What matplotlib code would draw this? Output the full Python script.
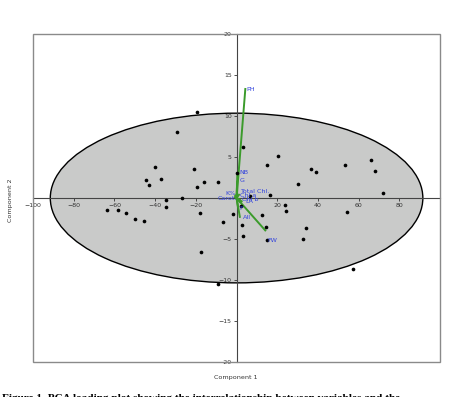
import matplotlib
matplotlib.use("Agg")
import matplotlib.pyplot as plt
from matplotlib.patches import Ellipse, Rectangle

# scores (component 1, component 2)
score_x = [-19.3, -29.3, 3.3, 20.3, 14.9, -40.2, -21.1, 36.6, 39.2, 53.3, 66.1, 68.2,
           0.0, -44.4, -37.0, -43.1, -15.9, -9.2, -19.2, 30.3, 71.7, 16.4, -26.6, -34.7,
           -34.7, 6.4, -63.8, -58.2, -54.4, -49.7, -45.4, -18.2, -2.0, -6.5, 2.5, 3.3,
           12.5, 14.6, 15.1, 23.8, 24.3, 34.3, 32.8, 54.1, 57.1, -17.5, -8.9, 2.3]
score_y = [10.5, 8.1, 6.2, 5.1, 4.06, 3.8, 3.5, 3.5, 3.2, 4.06, 4.6, 3.3,
           3.05, 2.15, 2.3, 1.58, 2.0, 2.0, 1.4, 1.66, 0.65, 0.32, 0.0, -0.3,
           -1.06, 0.2, -1.47, -1.47, -1.8, -2.5, -2.77, -1.83, -2.0, -2.93, -3.26, -4.6,
           -2.07, -3.54, -5.1, -0.82, -1.63, -3.66, -5.0, -1.75, -8.7, -6.6, -10.45, -1.0]

# loadings
var_names = ["PH", "FW", "All", "NB", "G", "K%", "Carot.", "Total Chl.",
             "Chl a", "Chl b", "LA", "F"]
load_x = [4.3, 14.1, 1.6, 0.4, 0.3, -0.6, -0.8, 1.2, 1.5, 1.8, 2.5, 0.6]
load_y = [13.3, -3.95, -2.3, 3.0, 2.0, 0.3, 0.1, 0.4, -0.2, -0.5, -0.4, -1.0]
label_x = [5.0, 15.0, 3.3, 1.5, 1.4, -5.6, -9.3, 1.7, 1.5, 2.5, 4.5, 1.6]
label_y = [13.2, -5.2, -2.4, 3.1, 2.15, 0.6, 0.0, 0.75, 0.25, -0.15, -0.4, -1.3]

ell_w = 183
ell_h = 20.7

fig = plt.figure(figsize=(4.74, 3.97), dpi=100)
ax = fig.add_axes([0.0696, 0.0882, 0.859, 0.826])
ax.set_xlim(-100, 100)
ax.set_ylim(-20, 20)

ax.add_patch(Ellipse((0, 0), ell_w, ell_h, facecolor="#c9cac9", edgecolor="black", lw=1.0, zorder=1))

ax.spines["left"].set_position(("data", 0))
ax.spines["bottom"].set_position(("data", 0))
ax.spines["top"].set_visible(False)
ax.spines["right"].set_visible(False)
for s in ["left", "bottom"]:
    ax.spines[s].set_color("#444444")
    ax.spines[s].set_linewidth(0.8)
    ax.spines[s].set_zorder(2)

ax.add_patch(Rectangle((0, 0), 1, 1, transform=ax.transAxes, fill=False,
                       edgecolor="#8a8a8a", lw=1.0, clip_on=False, zorder=5))

ax.set_xticks([-100, -80, -60, -40, -20, 20, 40, 60, 80])
ax.set_yticks([-20, -15, -10, -5, 5, 10, 15, 20])
ax.tick_params(axis="both", labelsize=4.5, colors="#333333", length=2, width=0.6, pad=1.5)

ax.scatter(score_x, score_y, s=7, color="black", zorder=4, linewidths=0)

for i in range(len(var_names)):
    ax.plot([0, load_x[i]], [0, load_y[i]], color="#3b9b2b", lw=1.4, zorder=3)
    ax.text(label_x[i], label_y[i], var_names[i], color="#3344dd", fontsize=4.6,
            ha="left", va="center", zorder=6)

fig.text(0.0216, 0.496, "Component 2", rotation=90, fontsize=4.6, color="#333333",
         ha="center", va="center")
fig.text(0.497, 0.048, "Component 1", fontsize=4.6, color="#333333",
         ha="center", va="center")

# caption, mostly cut off at the bottom edge as in the source image
fig.text(0.004, 0.0065, "Figure 1. PCA loading plot showing the interrelationship between variables and the",
         fontsize=8.1, fontweight="bold", family="Liberation Serif", ha="left", va="top")

fig.savefig("out.png", dpi=100)
